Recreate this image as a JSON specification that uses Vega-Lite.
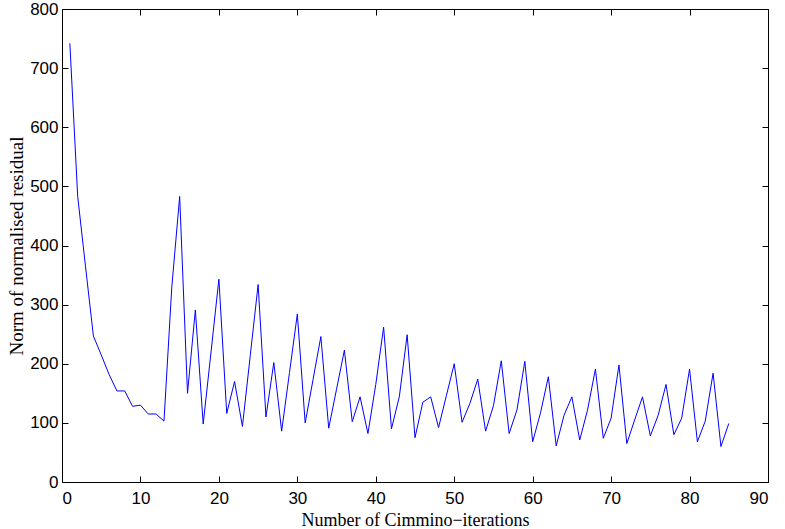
{
  "$schema": "https://vega.github.io/schema/vega-lite/v6.json",
  "width": 706,
  "height": 473,
  "autosize": {"type": "none"},
  "padding": {"left": 62, "top": 9, "right": 17, "bottom": 47},
  "background": "white",
  "config": {
    "view": {"stroke": "#000000", "strokeWidth": 1},
    "axis": {
      "grid": false,
      "domain": false,
      "tickColor": "#000000",
      "tickSize": -6,
      "labelFont": "Liberation Sans",
      "labelFontSize": 17,
      "labelColor": "#000000",
      "titleFont": "Liberation Serif",
      "titleFontSize": 18,
      "titleFontWeight": "normal",
      "titleColor": "#000000"
    }
  },
  "data": {"values": [
    {"n": 1, "r": 742}, {"n": 2, "r": 483}, {"n": 3, "r": 364}, {"n": 4, "r": 247},
    {"n": 5, "r": 215}, {"n": 6, "r": 182}, {"n": 7, "r": 154}, {"n": 8, "r": 154},
    {"n": 9, "r": 128}, {"n": 10, "r": 130}, {"n": 11, "r": 115}, {"n": 12, "r": 115},
    {"n": 13, "r": 103}, {"n": 14, "r": 330}, {"n": 15, "r": 483}, {"n": 16, "r": 150},
    {"n": 17, "r": 291}, {"n": 18, "r": 98}, {"n": 19, "r": 220}, {"n": 20, "r": 343},
    {"n": 21, "r": 116}, {"n": 22, "r": 170}, {"n": 23, "r": 94}, {"n": 24, "r": 214},
    {"n": 25, "r": 334}, {"n": 26, "r": 110}, {"n": 27, "r": 202}, {"n": 28, "r": 86},
    {"n": 29, "r": 185}, {"n": 30, "r": 284}, {"n": 31, "r": 100}, {"n": 32, "r": 173},
    {"n": 33, "r": 246}, {"n": 34, "r": 91}, {"n": 35, "r": 157}, {"n": 36, "r": 223},
    {"n": 37, "r": 102}, {"n": 38, "r": 144}, {"n": 39, "r": 82}, {"n": 40, "r": 165},
    {"n": 41, "r": 262}, {"n": 42, "r": 90}, {"n": 43, "r": 144}, {"n": 44, "r": 249},
    {"n": 45, "r": 75}, {"n": 46, "r": 135}, {"n": 47, "r": 144}, {"n": 48, "r": 92},
    {"n": 49, "r": 146}, {"n": 50, "r": 200}, {"n": 51, "r": 101}, {"n": 52, "r": 133},
    {"n": 53, "r": 174}, {"n": 54, "r": 86}, {"n": 55, "r": 129}, {"n": 56, "r": 205},
    {"n": 57, "r": 82}, {"n": 58, "r": 122}, {"n": 59, "r": 204}, {"n": 60, "r": 68},
    {"n": 61, "r": 117}, {"n": 62, "r": 178}, {"n": 63, "r": 61}, {"n": 64, "r": 113},
    {"n": 65, "r": 144}, {"n": 66, "r": 71}, {"n": 67, "r": 122}, {"n": 68, "r": 191},
    {"n": 69, "r": 74}, {"n": 70, "r": 108}, {"n": 71, "r": 198}, {"n": 72, "r": 65},
    {"n": 73, "r": 105}, {"n": 74, "r": 144}, {"n": 75, "r": 78}, {"n": 76, "r": 113},
    {"n": 77, "r": 165}, {"n": 78, "r": 80}, {"n": 79, "r": 108}, {"n": 80, "r": 191},
    {"n": 81, "r": 68}, {"n": 82, "r": 103}, {"n": 83, "r": 184}, {"n": 84, "r": 60},
    {"n": 85, "r": 99}
  ]},
  "layer": [
    {
      "mark": {"type": "line", "color": "#0000ff", "strokeWidth": 1},
      "encoding": {
        "x": {"field": "n", "type": "quantitative", "scale": {"domain": [0, 90], "nice": false, "zero": false},
              "axis": {"orient": "bottom", "values": [0,10,20,30,40,50,60,70,80,90], "labelPadding": 14, "title": "Number of Cimmino\u2212iterations", "titlePadding": 5}},
        "y": {"field": "r", "type": "quantitative", "scale": {"domain": [0, 800], "nice": false},
              "axis": {"orient": "left", "values": [0,100,200,300,400,500,600,700,800], "labelPadding": 10, "title": "Norm of normalised residual", "titleFontSize": 19, "titlePadding": 3}}
      }
    },
    {
      "mark": {"type": "line", "opacity": 0},
      "encoding": {
        "x": {"field": "n", "type": "quantitative", "scale": {"domain": [0, 90], "nice": false, "zero": false},
              "axis": {"orient": "top", "values": [0,10,20,30,40,50,60,70,80,90], "labels": false, "title": null}},
        "y": {"field": "r", "type": "quantitative", "scale": {"domain": [0, 800], "nice": false},
              "axis": {"orient": "right", "values": [0,100,200,300,400,500,600,700,800], "labels": false, "title": null}}
      }
    }
  ],
  "resolve": {"axis": {"x": "independent", "y": "independent"}}
}
